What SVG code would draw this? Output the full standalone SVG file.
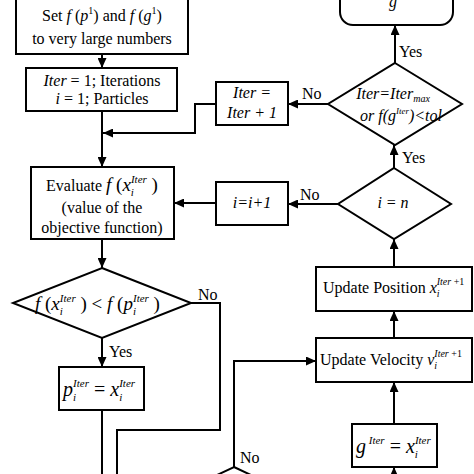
<svg xmlns="http://www.w3.org/2000/svg" width="474" height="474" viewBox="0 0 474 474">
<style>
.t{font-family:"Liberation Serif","Times New Roman",serif;font-size:16px;fill:#000}
.m{font-size:19px}
.b{font-size:20px}
.i{font-style:italic}
.n{fill:#fff;stroke:#000;stroke-width:2}
.c{fill:none;stroke:#000;stroke-width:2}
</style>
<defs>
<marker id="ah" markerUnits="userSpaceOnUse" markerWidth="10" markerHeight="9" refX="10" refY="4.5" orient="auto">
<path d="M0,0 L10,4.5 L0,9 z" fill="#000"/>
</marker>
</defs>
<rect width="474" height="474" fill="#fff"/>

<g id="connectors">
<path class="c" d="M102,54 V68" marker-end="url(#ah)"/>
<path class="c" d="M102,111 V167" marker-end="url(#ah)"/>
<path class="c" d="M216,104 H195 V133 H103" marker-end="url(#ah)"/>
<path class="c" d="M328,104 H288" marker-end="url(#ah)"/>
<path class="c" d="M395,63 V25" marker-end="url(#ah)"/>
<path class="c" d="M394,168 V145" marker-end="url(#ah)"/>
<path class="c" d="M338,204 H288" marker-end="url(#ah)"/>
<path class="c" d="M216,203 H174" marker-end="url(#ah)"/>
<path class="c" d="M102,239 V268" marker-end="url(#ah)"/>
<path class="c" d="M102,338 V367" marker-end="url(#ah)"/>
<path class="c" d="M191,303 H220 V430 H117 V480"/>
<path class="c" d="M102,410 V480"/>
<path class="c" d="M394,267 V239" marker-end="url(#ah)"/>
<path class="c" d="M394,338 V311" marker-end="url(#ah)"/>
<path class="c" d="M394,424 V382" marker-end="url(#ah)"/>
<path class="c" d="M394,480 V467" marker-end="url(#ah)"/>
<path class="c" d="M234,467 V361 H316" marker-end="url(#ah)"/>
<text class="t" x="399" y="57">Yes</text>
<text class="t" x="302" y="99">No</text>
<text class="t" x="402" y="163">Yes</text>
<text class="t" x="300" y="200">No</text>
<text class="t" x="198" y="300">No</text>
<text class="t" x="109" y="357">Yes</text>
<text class="t" x="240" y="463">No</text>
</g>

<g id="init">
<rect class="n" x="16" y="-5" width="172" height="59"/>
<text class="t" x="102" y="21" text-anchor="middle">Set <tspan class="i">f</tspan> (<tspan class="i">p</tspan><tspan font-size="10" dy="-7">1</tspan><tspan dy="7">) and </tspan><tspan class="i">f</tspan> (<tspan class="i">g</tspan><tspan font-size="10" dy="-7">1</tspan><tspan dy="7">)</tspan></text>
<text class="t" x="102" y="44" text-anchor="middle">to very large numbers</text>
</g>

<g id="counters">
<rect class="n" x="26" y="68" width="151" height="43"/>
<text class="t" x="102" y="86" text-anchor="middle"><tspan class="i">Iter</tspan> = 1; Iterations</text>
<text class="t" x="102" y="104" text-anchor="middle"><tspan class="i">i</tspan> = 1; Particles</text>
</g>

<g id="iterinc">
<rect class="n" x="216" y="82" width="72" height="43"/>
<text class="t i" x="252" y="98" text-anchor="middle">Iter =</text>
<text class="t i" x="252" y="118" text-anchor="middle">Iter + 1</text>
</g>

<g id="stopcheck">
<polygon class="n" points="395,63 462,104 395,145 328,104"/>
<text class="t i" x="393" y="99" text-anchor="middle">Iter=Iter<tspan font-size="10" dy="3">max</tspan></text>
<text class="t i" x="401" y="121" text-anchor="middle">or f(g<tspan font-size="9" dy="-7">Iter</tspan><tspan dy="7">)&lt;tol</tspan></text>
</g>

<g id="terminal">
<rect class="n" x="340" y="-20" width="113" height="45" rx="13"/>
<text class="t i" x="389" y="7">g</text>
</g>

<g id="evaluate">
<rect class="n" x="31" y="167" width="143" height="72"/>
<text class="t" x="102" y="191" text-anchor="middle">Evaluate <tspan class="i" font-size="19">f</tspan><tspan font-size="19"> (</tspan><tspan class="i" font-size="19">x</tspan><tspan class="i" font-size="11" dy="5">i</tspan><tspan class="i" font-size="11" dx="-3" dy="-13">Iter</tspan><tspan font-size="19" dy="8"> )</tspan></text>
<text class="t" x="102" y="213" text-anchor="middle">(value of the</text>
<text class="t" x="102" y="233" text-anchor="middle">objective function)</text>
</g>

<g id="iinc">
<rect class="n" x="216" y="182" width="72" height="43"/>
<text class="t i" x="252" y="208" text-anchor="middle">i=i+1</text>
</g>

<g id="icheck">
<polygon class="n" points="394,168 451,204 394,239 338,204"/>
<text class="t i" x="393" y="208" text-anchor="middle">i = n</text>
</g>

<g id="pbestcheck">
<polygon class="n" points="102,268 191,303 102,338 13,303"/>
<text class="t m" x="35" y="310"><tspan class="i">f</tspan> (<tspan class="i">x</tspan><tspan class="i" font-size="11" dy="5">i</tspan><tspan class="i" font-size="11" dx="-3" dy="-13">Iter</tspan><tspan dy="8"> ) &lt; </tspan><tspan class="i">f</tspan> (<tspan class="i">p</tspan><tspan class="i" font-size="11" dy="5">i</tspan><tspan class="i" font-size="11" dx="-3" dy="-13">Iter</tspan><tspan dy="8"> )</tspan></text>
</g>

<g id="pbest">
<rect class="n" x="59" y="367" width="85" height="43"/>
<text class="t b" x="63" y="396"><tspan class="i">p</tspan><tspan class="i" font-size="11" dy="5">i</tspan><tspan class="i" font-size="11" dx="-3" dy="-14">Iter</tspan><tspan dy="9"> = </tspan><tspan class="i">x</tspan><tspan class="i" font-size="11" dy="5">i</tspan><tspan class="i" font-size="11" dx="-3" dy="-14">Iter</tspan></text>
</g>

<g id="updpos">
<rect class="n" x="316" y="267" width="156" height="44"/>
<text class="t" x="323" y="293">Update Position <tspan class="i">x</tspan><tspan class="i" font-size="10" dy="4">i</tspan><tspan font-size="10" dx="-2.8" dy="-12"><tspan class="i">Iter</tspan> +1</tspan></text>
</g>

<g id="updvel">
<rect class="n" x="316" y="338" width="156" height="44"/>
<text class="t" x="320" y="365">Update Velocity <tspan class="i">v</tspan><tspan class="i" font-size="10" dy="4">i</tspan><tspan font-size="10" dx="-2.8" dy="-12"><tspan class="i">Iter</tspan> +1</tspan></text>
</g>

<g id="gbest">
<rect class="n" x="352" y="424" width="85" height="43"/>
<text class="t b" x="356" y="453"><tspan class="i">g</tspan><tspan class="i" font-size="11" dy="-9"> Iter</tspan><tspan dy="9"> = </tspan><tspan class="i">x</tspan><tspan class="i" font-size="11" dy="5">i</tspan><tspan class="i" font-size="11" dx="-3" dy="-14">Iter</tspan></text>
</g>

<g id="gbestcheck">
<polygon class="n" points="234,467 308,502 234,537 160,502"/>
</g>
</svg>
